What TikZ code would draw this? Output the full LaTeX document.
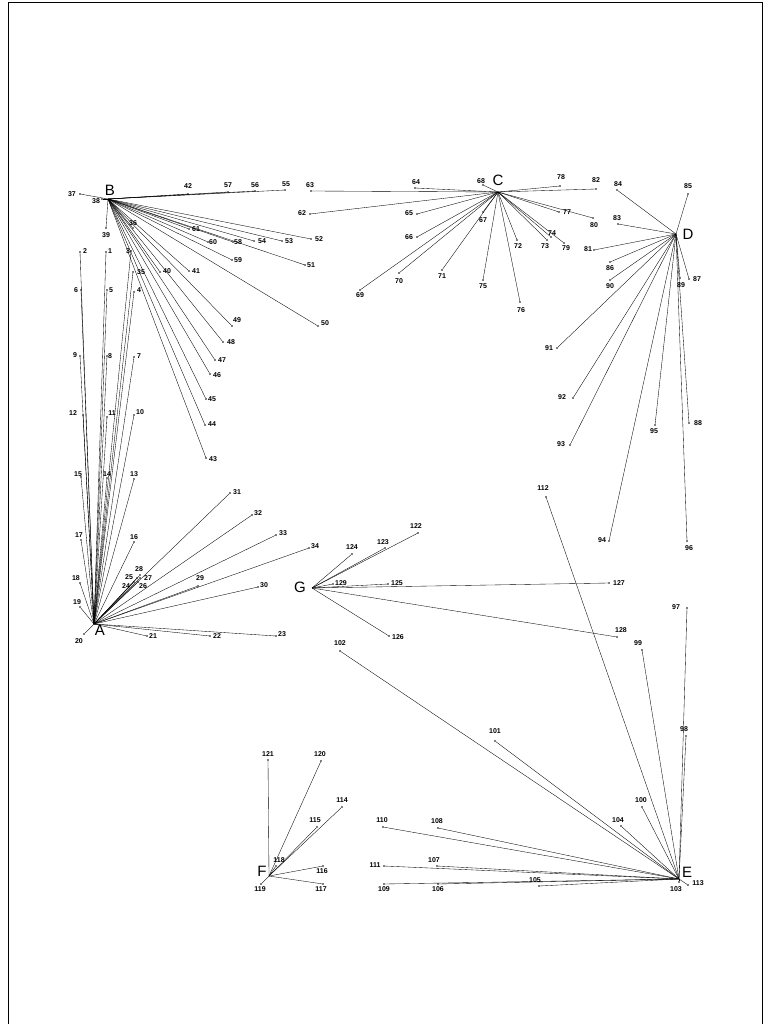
\documentclass[tikz,border=0pt]{standalone}
\usepackage{fontspec}
\setmainfont{Liberation Sans}
\begin{document}
\begin{tikzpicture}[x=1pt,y=-1pt,
  dotn/.style={circle,fill=black,inner sep=0pt,minimum size=1.8pt},
  lab/.style={inner sep=0pt,font=\fontsize{7}{8}\selectfont\bfseries},
  hubl/.style={inner sep=0pt,font=\fontsize{15}{16}\selectfont},
  spoke/.style={line width=0.35pt}]
\useasboundingbox (0,0) rectangle (768,1024);
\draw[line width=0.6pt] (8,2) rectangle (762,1030);
\newcommand\spk[6]{\node[dotn] (n#6) at (#2,#3) {}; \node[lab] at (#4,#5) {#6}; \draw[spoke] (#1) -- (n#6);}
\coordinate (A) at (94,624); \node[hubl] (lA) at (100,630) {A};
\coordinate (B) at (108,199); \node[hubl] (lB) at (110,190) {B};
\coordinate (C) at (498,192); \node[hubl] (lC) at (498,180) {C};
\coordinate (D) at (676,234); \node[hubl] (lD) at (688,234) {D};
\coordinate (E) at (679,879); \node[hubl] (lE) at (687,872) {E};
\coordinate (F) at (269,876); \node[hubl] (lF) at (262,871) {F};
\coordinate (G) at (312,588); \node[hubl] (lG) at (300,587) {G};
% B
\spk{B}{80}{194}{72}{194}{37}
\spk{B}{102}{199}{96}{201}{38}
\spk{B}{106}{228}{106}{235}{39}
\spk{B}{188}{194}{188}{186}{42}
\spk{B}{228}{192}{228}{185}{57}
\spk{B}{255}{191}{255}{185}{56}
\spk{B}{285}{190}{286}{184}{55}
\spk{B}{133}{228}{133}{223}{36}
\spk{B}{189}{229}{196}{229}{61}
\spk{B}{208}{242}{213}{242}{60}
\spk{B}{233}{242}{238}{242}{58}
\spk{B}{254}{241}{262}{241}{54}
\spk{B}{282}{241}{289}{241}{53}
\spk{B}{311}{239}{319}{239}{52}
\spk{B}{305}{265}{311}{265}{51}
\spk{B}{232}{260}{238}{260}{59}
\spk{B}{160}{272}{167}{271}{40}
\spk{B}{189}{271}{196}{271}{41}
\spk{B}{232}{326}{237}{320}{49}
\spk{B}{223}{342}{231}{342}{48}
\spk{B}{215}{360}{222}{360}{47}
\spk{B}{210}{374}{217}{375}{46}
\spk{B}{206}{399}{212}{399}{45}
\spk{B}{205}{425}{212}{424}{44}
\spk{B}{206}{458}{213}{459}{43}
\spk{B}{318}{326}{325}{323}{50}
% A
\spk{A}{80}{252}{85}{251}{2}
\spk{A}{106}{252}{110}{251}{1}
\spk{A}{131}{251}{128}{251}{3}
\spk{A}{133}{272}{141}{272}{35}
\spk{A}{134}{292}{139}{290}{4}
\spk{A}{81}{290}{76}{290}{6}
\spk{A}{107}{290}{111}{290}{5}
\spk{A}{80}{356}{75}{355}{9}
\spk{A}{107}{356}{110}{356}{8}
\spk{A}{134}{357}{139}{356}{7}
\spk{A}{83}{415}{73}{413}{12}
\spk{A}{107}{417}{112}{413}{11}
\spk{A}{134}{415}{140}{412}{10}
\spk{A}{81}{477}{78}{474}{15}
\spk{A}{107}{478}{107}{474}{14}
\spk{A}{134}{479}{134}{474}{13}
\spk{A}{81}{540}{79}{535}{17}
\spk{A}{134}{542}{134}{537}{16}
\spk{A}{80}{583}{76}{578}{18}
\spk{A}{80}{607}{77}{602}{19}
\spk{A}{84}{634}{79}{641}{20}
\spk{A}{147}{636}{153}{636}{21}
\spk{A}{210}{636}{217}{636}{22}
\spk{A}{276}{636}{282}{634}{23}
\spk{A}{230}{493}{237}{492}{31}
\spk{A}{252}{515}{258}{513}{32}
\spk{A}{276}{535}{283}{533}{33}
\spk{A}{309}{548}{315}{546}{34}
\spk{A}{258}{587}{264}{585}{30}
\spk{A}{198}{586}{200}{578}{29}
\spk{A}{140}{575}{139}{569}{28}
\spk{A}{137}{578}{129}{577}{25}
\spk{A}{140}{578}{148}{578}{27}
\spk{A}{134}{582}{126}{586}{24}
\spk{A}{138}{582}{143}{586}{26}
% G
\spk{G}{333}{584}{341}{583}{129}
\spk{G}{388}{584}{397}{583}{125}
\spk{G}{609}{583}{619}{583}{127}
\spk{G}{617}{637}{621}{630}{128}
\spk{G}{389}{636}{398}{637}{126}
\spk{G}{352}{554}{352}{547}{124}
\spk{G}{385}{548}{383}{542}{123}
\spk{G}{418}{533}{416}{526}{122}
% C
\spk{C}{311}{191}{310}{185}{63}
\spk{C}{310}{214}{302}{213}{62}
\spk{C}{415}{188}{416}{182}{64}
\spk{C}{483}{185}{481}{181}{68}
\spk{C}{560}{186}{561}{177}{78}
\spk{C}{596}{189}{596}{180}{82}
\spk{C}{417}{214}{409}{213}{65}
\spk{C}{417}{237}{409}{237}{66}
\spk{C}{483}{212}{483}{220}{67}
\spk{C}{360}{290}{360}{295}{69}
\spk{C}{399}{273}{399}{281}{70}
\spk{C}{442}{270}{442}{276}{71}
\spk{C}{483}{280}{483}{286}{75}
\spk{C}{520}{302}{521}{310}{76}
\spk{C}{517}{240}{518}{246}{72}
\spk{C}{547}{240}{545}{246}{73}
\spk{C}{551}{237}{552}{233}{74}
\spk{C}{564}{243}{566}{248}{79}
\spk{C}{559}{212}{567}{212}{77}
\spk{C}{593}{218}{594}{225}{80}
% D
\spk{D}{617}{190}{618}{184}{84}
\spk{D}{688}{194}{688}{186}{85}
\spk{D}{618}{224}{617}{218}{83}
\spk{D}{594}{250}{588}{249}{81}
\spk{D}{610}{262}{610}{268}{86}
\spk{D}{610}{280}{610}{286}{90}
\spk{D}{680}{278}{681}{285}{89}
\spk{D}{689}{279}{697}{279}{87}
\spk{D}{557}{348}{549}{348}{91}
\spk{D}{573}{398}{562}{397}{92}
\spk{D}{570}{445}{561}{444}{93}
\spk{D}{655}{425}{654}{431}{95}
\spk{D}{689}{423}{698}{423}{88}
\spk{D}{609}{541}{602}{540}{94}
\spk{D}{687}{541}{689}{548}{96}
% E
\spk{E}{340}{651}{340}{643}{102}
\spk{E}{495}{741}{495}{731}{101}
\spk{E}{642}{807}{641}{800}{100}
\spk{E}{621}{826}{618}{820}{104}
\spk{E}{383}{827}{382}{820}{110}
\spk{E}{438}{828}{437}{821}{108}
\spk{E}{384}{866}{375}{865}{111}
\spk{E}{437}{866}{434}{860}{107}
\spk{E}{384}{884}{384}{889}{109}
\spk{E}{438}{884}{438}{889}{106}
\spk{E}{539}{886}{535}{880}{105}
\spk{E}{679}{882}{676}{889}{103}
\spk{E}{688}{885}{698}{883}{113}
\spk{E}{686}{736}{684}{729}{98}
\spk{E}{642}{650}{638}{643}{99}
\spk{E}{687}{608}{676}{607}{97}
\spk{E}{546}{497}{543}{488}{112}
% F
\spk{F}{268}{760}{268}{754}{121}
\spk{F}{321}{761}{320}{754}{120}
\spk{F}{342}{807}{342}{800}{114}
\spk{F}{317}{827}{315}{820}{115}
\spk{F}{276}{866}{279}{860}{118}
\spk{F}{323}{866}{322}{871}{116}
\spk{F}{323}{884}{321}{889}{117}
\spk{F}{261}{884}{260}{889}{119}
\end{tikzpicture}
\end{document}
